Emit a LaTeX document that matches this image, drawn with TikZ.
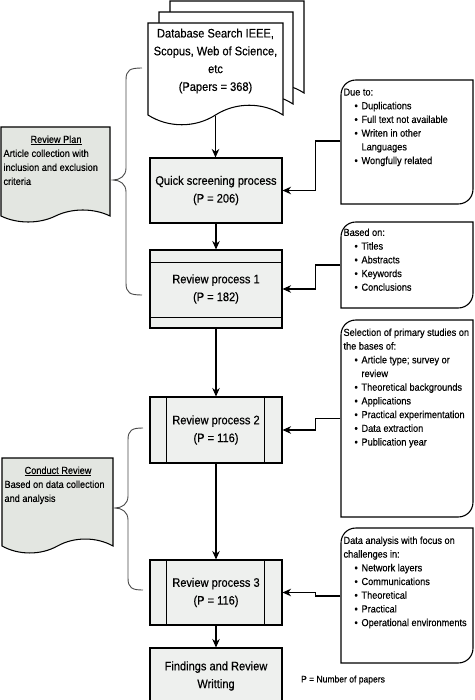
\documentclass[tikz,border=0pt]{standalone}
\usepackage{fontspec}
\setmainfont{Liberation Sans}[FakeStretch=0.9,FakeBold=0.35]
\usetikzlibrary{arrows.meta,calc}
\definecolor{boxfill}{HTML}{EEF0EE}
\definecolor{sidefill}{HTML}{E3E6E1}
\definecolor{bracegray}{HTML}{4A4A4A}
\newcommand{\bul}{\hspace*{11pt}\makebox[7pt][l]{•}}
\newcommand{\cont}{\hspace*{18pt}}
\newcommand{\notepath}[2]{\draw[noteshape] (341,#1+15) .. controls (341,#1+7) and (347,#1) .. (356,#1) -- (473,#1) -- (473,#2-15) .. controls (473,#2-7) and (467,#2) .. (458,#2) -- (341,#2) -- cycle;}
\begin{document}
\begin{tikzpicture}[x=1pt,y=-1pt,line width=1.05pt,
  proc/.style={draw, fill=boxfill, minimum width=132pt, inner sep=0pt, align=center, font=\fontsize{12.3}{17.8}\selectfont},
  arr/.style={-{Stealth[length=8.5pt,width=7.5pt]}, line width=1.05pt},
  notetext/.style={anchor=north west, inner sep=0pt, align=left, font=\fontsize{10.2}{13.7}\selectfont},
  noteshape/.style={draw, fill=white, line width=1.1pt},
  sidebox/.style={draw, fill=sidefill},
  sidetext/.style={anchor=north west, inner sep=0pt, align=left, font=\fontsize{10.2}{14}\selectfont},
  bracestyle/.style={draw=bracegray, line width=0.9pt},
  hold/.style={inner sep=0pt, draw=none}]
\useasboundingbox (0,0) rectangle (474,700);

% multi-document stack
\draw[fill=white] (170,1)--(304,1)--(304,93) .. controls (283.9,80) and (257.1,80) .. (237,93) .. controls (216.9,106) and (190.1,106) .. (170,93) -- cycle;
\draw[fill=white] (159,12)--(293,12)--(293,104) .. controls (272.9,91) and (246.1,91) .. (226,104) .. controls (205.9,117) and (179.1,117) .. (159,104) -- cycle;
\draw[fill=white] (148,23) -- (283,23) -- (283,115) .. controls (262.75,102) and (235.75,102) .. (215.5,115) .. controls (195.25,128) and (168.25,128) .. (148,115) -- cycle;
\node[hold, minimum width=135pt, minimum height=92pt] (doc) at (215.5,69) {};
\node[align=center, inner sep=0pt, font=\fontsize{12.3}{17.8}\selectfont] (doctext) at (215.5,61) {Database Search IEEE,\\Scopus, Web of Science,\\etc\\(Papers = 368)};

% process boxes
\node[proc, minimum height=65pt] (qs) at (216,190.5) {Quick screening process\\(P = 206)};
\node[proc, minimum height=78pt] (rp1) at (216,289) {Review process 1\\(P = 182)};
\draw ([yshift=-13pt]rp1.north west) -- ([yshift=-13pt]rp1.north east);
\draw ([yshift=11pt]rp1.south west) -- ([yshift=11pt]rp1.south east);
\node[proc, minimum height=66pt] (rp2) at (216,430) {Review process 2\\(P = 116)};
\draw ([xshift=17pt]rp2.north west) -- ([xshift=17pt]rp2.south west);
\draw ([xshift=-18pt]rp2.north east) -- ([xshift=-18pt]rp2.south east);
\node[proc, minimum height=65pt] (rp3) at (216,592.5) {Review process 3\\(P = 116)};
\draw ([xshift=17pt]rp3.north west) -- ([xshift=17pt]rp3.south west);
\draw ([xshift=-18pt]rp3.north east) -- ([xshift=-18pt]rp3.south east);
\node[proc, minimum height=56pt] (fin) at (216,676) {Findings and Review\\Writting};

\draw[arr] (doc.south) -- (doc.south |- qs.north);
\draw[arr] (qs.south) -- (rp1.north);
\draw[arr] (rp1.south) -- (rp2.north);
\draw[arr] (rp2.south) -- (rp3.north);
\draw[arr] (rp3.south) -- (fin.north);

% notes
\notepath{80}{204}
\node[hold, minimum width=132pt, minimum height=124pt] (n1) at (407,141) {};
\node[notetext] (n1t) at (343,88) {Due to:\\\bul Duplications\\\bul Full text not available\\\bul Writen in other\\\cont Languages\\\bul Wongfully related};
\notepath{222}{308}
\node[hold, minimum width=132pt, minimum height=86pt] (n2) at (407,265) {};
\node[notetext] (n2t) at (343,228) {Based on:\\\bul Titles\\\bul Abstracts\\\bul Keywords\\\bul Conclusions};
\notepath{320}{517}
\node[hold, minimum width=132pt, minimum height=197pt] (n3) at (407,418.5) {};
\node[notetext] (n3t) at (343,328) {Selection of primary studies on\\the bases of:\\\bul Article type; survey or\\\cont review\\\bul Theoretical backgrounds\\\bul Applications\\\bul Practical experimentation\\\bul Data extraction\\\bul Publication year};
\notepath{528}{663}
\node[hold, minimum width=132pt, minimum height=135pt] (n4) at (407,596) {};
\node[notetext] (n4t) at (343,536) {Data analysis with focus on\\challenges in:\\\bul Network layers\\\bul Communications\\\bul Theoretical\\\bul Practical\\\bul Operational environments};

\draw[arr] (n1.west) -- ++(-25,0) |- (qs.east);
\draw[arr] (n2.west) -- ++(-25,0) |- (rp1.east);
\draw[arr] (n3.west) -- ++(-25,0) |- (rp2.east);
\draw[arr] (n4.west) -- ++(-25,0) |- (rp3.east);

% side boxes
\draw[sidebox] (1,127)--(110,127)--(110,216) .. controls (93.65,208) and (71.85,208) .. (55.5,216) .. controls (39.15,224) and (17.35,224) .. (1,216) -- cycle;
\node[sidetext] (plan) at (3,135) {\makebox[105pt]{\underline{Review Plan}}\\Article collection with\\inclusion and exclusion\\criteria};
\draw[sidebox] (2,458)--(113,458)--(113,546) .. controls (96.35,536.7) and (74.15,536.7) .. (57.5,546) .. controls (40.85,555.3) and (18.65,555.3) .. (2,546) -- cycle;
\node[sidetext] (conduct) at (4,466) {\makebox[107pt]{\underline{Conduct Review}}\\Based on data collection\\and analysis};

% braces
\draw[bracestyle] (142,68) .. controls (130,68) and (126,70) .. (126,80) -- (126,168) .. controls (126,176) and (120,180) .. (113,180) .. controls (120,180) and (126,184) .. (126,192) -- (126,283) .. controls (126,293) and (130,295) .. (142,295);
\draw[bracestyle] (143,428) .. controls (132,428) and (128,430) .. (128,440) -- (128,496) .. controls (128,504) and (122,508) .. (115,508) .. controls (122,508) and (128,512) .. (128,520) -- (128,578) .. controls (128,588) and (132,590) .. (143,590);

\node[inner sep=0pt, font=\fontsize{9.5}{11}\selectfont] (legend) at (343,680) {P = Number of papers};
\end{tikzpicture}
\end{document}
